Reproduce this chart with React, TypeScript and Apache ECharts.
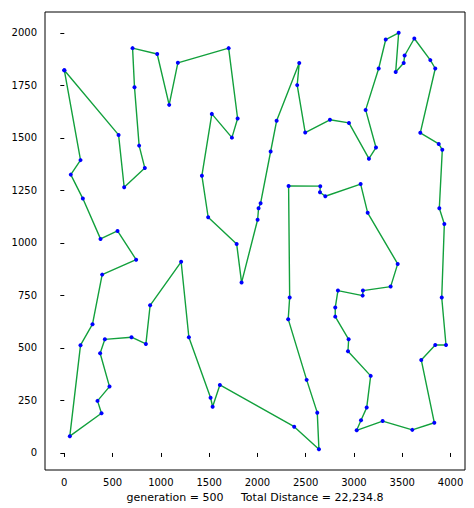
import React, { useEffect, useRef } from "react";
import * as echarts from "echarts";

// Tour order (city coordinates)
const tourX: number[] = [
  0, 562, 620, 834, 775, 727, 707, 962, 1086, 1176,
  1702, 1795, 1736, 1528, 1425, 1490, 1785, 1836, 2002, 2012,
  2033, 2137, 2199, 2433, 2412, 2495, 2751, 2948, 3155, 3228,
  3121, 3256, 3329, 3463, 3432, 3515, 3525, 3625, 3791, 3842,
  3687, 3878, 3915, 3884, 3936, 3909, 3953, 3842, 3697, 3832,
  3604, 3297, 3028, 3073, 3132, 3173, 2938, 2945, 2806, 2806,
  2834, 3090, 3093, 3380, 3453, 3142, 3069, 2703, 2648, 2651,
  2323, 2334, 2319, 2510, 2620, 2637, 2381, 1611, 1536, 1515,
  1290, 1210, 889, 845, 696, 420, 371, 468, 344, 385,
  57, 168, 292, 392, 744, 551, 375, 192, 67, 168,
];
const tourY: number[] = [
  1822, 1514, 1265, 1356, 1463, 1741, 1927, 1899, 1657, 1857,
  1927, 1592, 1501, 1614, 1320, 1122, 995, 811, 1110, 1165,
  1189, 1435, 1581, 1856, 1751, 1525, 1586, 1571, 1401, 1454,
  1633, 1830, 1968, 2000, 1813, 1856, 1892, 1973, 1870, 1830,
  1524, 1471, 1443, 1165, 1090, 740, 514, 514, 443, 144,
  110, 152, 108, 156, 216, 367, 484, 541, 649, 692,
  773, 749, 773, 792, 900, 1143, 1280, 1222, 1241, 1270,
  1271, 740, 637, 348, 192, 18, 125, 324, 220, 263,
  551, 910, 703, 519, 551, 541, 475, 316, 248, 189,
  80, 513, 613, 849, 920, 1057, 1019, 1211, 1325, 1394,
];
const xTicks: number[] = [0, 500, 1000, 1500, 2000, 2500, 3000, 3500, 4000];
const yTicks: number[] = [0, 250, 500, 750, 1000, 1250, 1500, 1750, 2000];
const generation = 500;
const totalDistance = "22,234.8";

export default function App() {
  const ref = useRef<HTMLDivElement>(null);
  useEffect(() => {
    if (!ref.current) return;
    const chart = echarts.init(ref.current, undefined, { renderer: "svg" });
    const pts = tourX.map((x, i) => [x, tourY[i]]);
    pts.push([tourX[0], tourY[0]]);
    const font = "DejaVu Sans";
    chart.setOption({
      animation: false,
      backgroundColor: "#ffffff",
      grid: {
        left: 45,
        top: 12,
        right: 9,
        bottom: 38,
        show: true,
        borderColor: "#000",
        borderWidth: 1,
        backgroundColor: "transparent",
      },
      xAxis: {
        type: "value",
        min: -200,
        max: 4150,
        splitLine: { show: false },
        axisLine: { show: false },
        axisTick: { show: true, inside: false, length: 4, customValues: xTicks, lineStyle: { color: "#000" } },
        axisLabel: {
          customValues: xTicks,
          formatter: (v: number) => String(v),
          color: "#000",
          fontFamily: font,
          fontSize: 10,
          margin: 7,
        },
        name: `generation = ${generation}     Total Distance = ${totalDistance}`,
        nameLocation: "middle",
        nameGap: 26,
        nameTextStyle: { color: "#000", fontFamily: font, fontSize: 11, verticalAlign: "middle" },
      },
      yAxis: {
        type: "value",
        min: -81,
        max: 2099,
        splitLine: { show: false },
        axisLine: { show: false },
        axisTick: { show: true, inside: false, length: 4, customValues: yTicks, lineStyle: { color: "#000" } },
        axisLabel: {
          customValues: yTicks,
          formatter: (v: number) => String(v),
          color: "#000",
          fontFamily: font,
          fontSize: 10,
          margin: 8,
        },
      },
      series: [
        {
          type: "line",
          data: pts,
          symbol: "circle",
          symbolSize: 4,
          showSymbol: true,
          lineStyle: { color: "#12a03c", width: 1.4 },
          itemStyle: { color: "#0000ff", borderWidth: 0 },
          silent: true,
        },
      ],
    });
    return () => chart.dispose();
  }, []);
  return <div ref={ref} style={{ width: 474, height: 508, position: "absolute", left: 0, top: 0 }} />;
}
